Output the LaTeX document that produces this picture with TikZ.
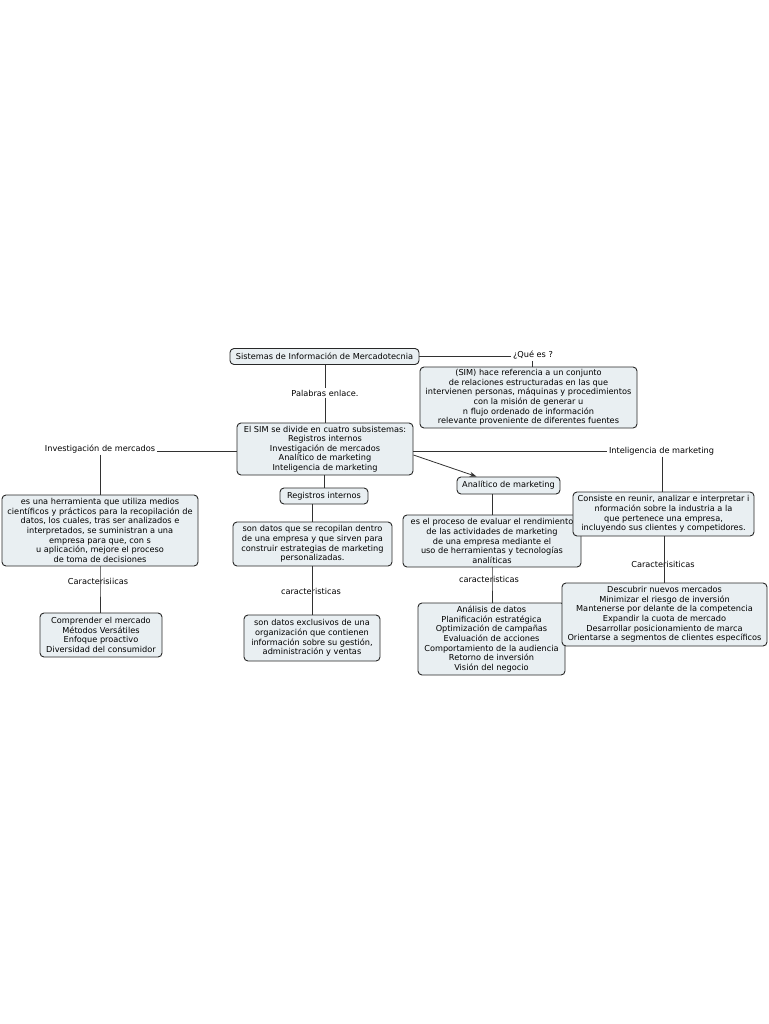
\documentclass[tikz,border=0pt]{standalone}
\usepackage{fontspec}
\setmainfont{DejaVu Sans}
\usetikzlibrary{arrows.meta}
\definecolor{boxfill}{RGB}{233,239,242}
\definecolor{boxline}{RGB}{40,40,40}
\definecolor{conline}{RGB}{50,50,50}
\begin{document}
\begin{tikzpicture}[x=1pt,y=-1pt,
  box/.style={draw=boxline, line width=0.9pt, fill=boxfill, rounded corners=4pt,
    align=center, inner sep=0pt, font=\fontsize{8.2}{9.6}\selectfont},
  lbl/.style={align=center, inner sep=1.5pt, font=\fontsize{8.2}{9.6}\selectfont},
  con/.style={draw=conline, line width=0.8pt}]
\useasboundingbox (0,0) rectangle (768,1024);
\fill[white] (0,0) rectangle (768,1024);

% boxes
\node[box, minimum width=189pt, minimum height=16pt] (title) at (324.5,356.5) {Sistemas de Información de Mercadotecnia};
\node[box, minimum width=217pt, minimum height=61pt] (sim) at (528.5,397.5) {(SIM) hace referencia a un conjunto\\de relaciones estructuradas en las que\\intervienen personas, máquinas y procedimientos\\con la misión de generar u\\n flujo ordenado de información\\relevante proveniente de diferentes fuentes};
\node[box, minimum width=176pt, minimum height=52pt] (divide) at (325,449) {El SIM se divide en cuatro subsistemas:\\Registros internos\\Investigación de mercados\\Analítico de marketing\\Inteligencia de marketing};
\node[box, minimum width=88pt, minimum height=16pt] (reg) at (324,496) {Registros internos};
\node[box, minimum width=159pt, minimum height=44pt] (regdesc) at (312.5,544) {son datos que se recopilan dentro\\de una empresa y que sirven para\\construir estrategias de marketing\\personalizadas.};
\node[box, minimum width=136pt, minimum height=46pt] (regchar) at (312,638) {son datos exclusivos de una\\organización que contienen\\información sobre su gestión,\\administración y ventas};
\node[box, minimum width=196pt, minimum height=71pt] (invdesc) at (100,530.5) {es una herramienta que utiliza medios\\científicos y prácticos para la recopilación de\\datos, los cuales, tras ser analizados e\\interpretados, se suministran a una\\empresa para que, con s\\u aplicación, mejore el proceso\\de toma de decisiones};
\node[box, minimum width=122pt, minimum height=44pt] (invchar) at (101,635) {Comprender el mercado\\Métodos Versátiles\\Enfoque proactivo\\Diversidad del consumidor};
\node[box, minimum width=103pt, minimum height=17pt] (anal) at (508.5,485.5) {Analítico de marketing};
\node[box, minimum width=178pt, minimum height=52pt] (analdesc) at (492,541) {es el proceso de evaluar el rendimiento\\de las actividades de marketing\\de una empresa mediante el\\uso de herramientas y tecnologías\\analíticas};
\node[box, minimum width=147pt, minimum height=72pt] (analchar) at (491.5,639) {Análisis de datos\\Planificación estratégica\\Optimización de campañas\\Evaluación de acciones\\Comportamiento de la audiencia\\Retorno de inversión\\Visión del negocio};
\node[box, minimum width=181pt, minimum height=44pt] (intdesc) at (663.5,514) {Consiste en reunir, analizar e interpretar i\\nformación sobre la industria a la\\que pertenece una empresa,\\incluyendo sus clientes y competidores.};
\node[box, minimum width=205pt, minimum height=63pt] (intchar) at (664.5,614.5) {Descubrir nuevos mercados\\Minimizar el riesgo de inversión\\Mantenerse por delante de la competencia\\Expandir la cuota de mercado\\Desarrollar posicionamiento de marca\\Orientarse a segmentos de clientes específicos};

% linking labels
\node[lbl] (que) at (533,355) {¿Qué es ?};
\node[lbl] (pal) at (325,393) {Palabras enlace.};
\node[lbl] (invlbl) at (100,449) {Investigación de mercados};
\node[lbl] (invcar) at (98,581) {Caracterisiicas};
\node[lbl] (regcar) at (311,591) {caracteristicas};
\node[lbl] (analcar) at (489,579) {caracteristicas};
\node[lbl] (intlbl) at (661.5,451) {Inteligencia de marketing};
\node[lbl] (intcar) at (663,564) {Caracterisiticas};

% connectors
\draw[con] (title.east) -- (title.east -| que.west);
\draw[con] (que.south -| 532,0) -- (sim.north -| 532,0);
\draw[con] (title.south -| pal.north) -- (pal.north);
\draw[con] (pal.south) -- (divide.north -| pal.south);
\draw[con] ([yshift=-2pt]divide.west) -- ([yshift=-2pt]divide.west -| invlbl.east);
\draw[con] (invlbl.south) -- (invlbl.south |- invdesc.north);
\draw[con] (invdesc.south) -- (invcar.center -| invdesc.south) -- (invchar.north -| invdesc.south);
\draw[con] (divide.south -| reg.north) -- (reg.north);
\draw[con] (regdesc.north |- reg.south) -- (regdesc.north);
\draw[con] (regdesc.south) -- (regcar.center -| regdesc.south) -- (regchar.north -| regdesc.south);
\draw[con, -{Stealth[length=7pt,width=5pt]}] ([yshift=-6pt]divide.east) -- ([xshift=20pt]anal.north west);
\draw[con] (analdesc.north |- anal.south) -- (analdesc.north);
\draw[con] (analdesc.south) -- (analcar.center -| analdesc.south) -- (analchar.north -| analdesc.south);
\draw[con] ([yshift=-2pt]divide.east) -- ([yshift=-2pt]divide.east -| intlbl.west);
\draw[con] (intlbl.south -| 662,0) -- (intdesc.north -| 662,0);
\draw[con] (intdesc.south -| 664,0) -- (intcar.center -| 664,0) -- (intchar.north -| 664,0);
\end{tikzpicture}
\end{document}
